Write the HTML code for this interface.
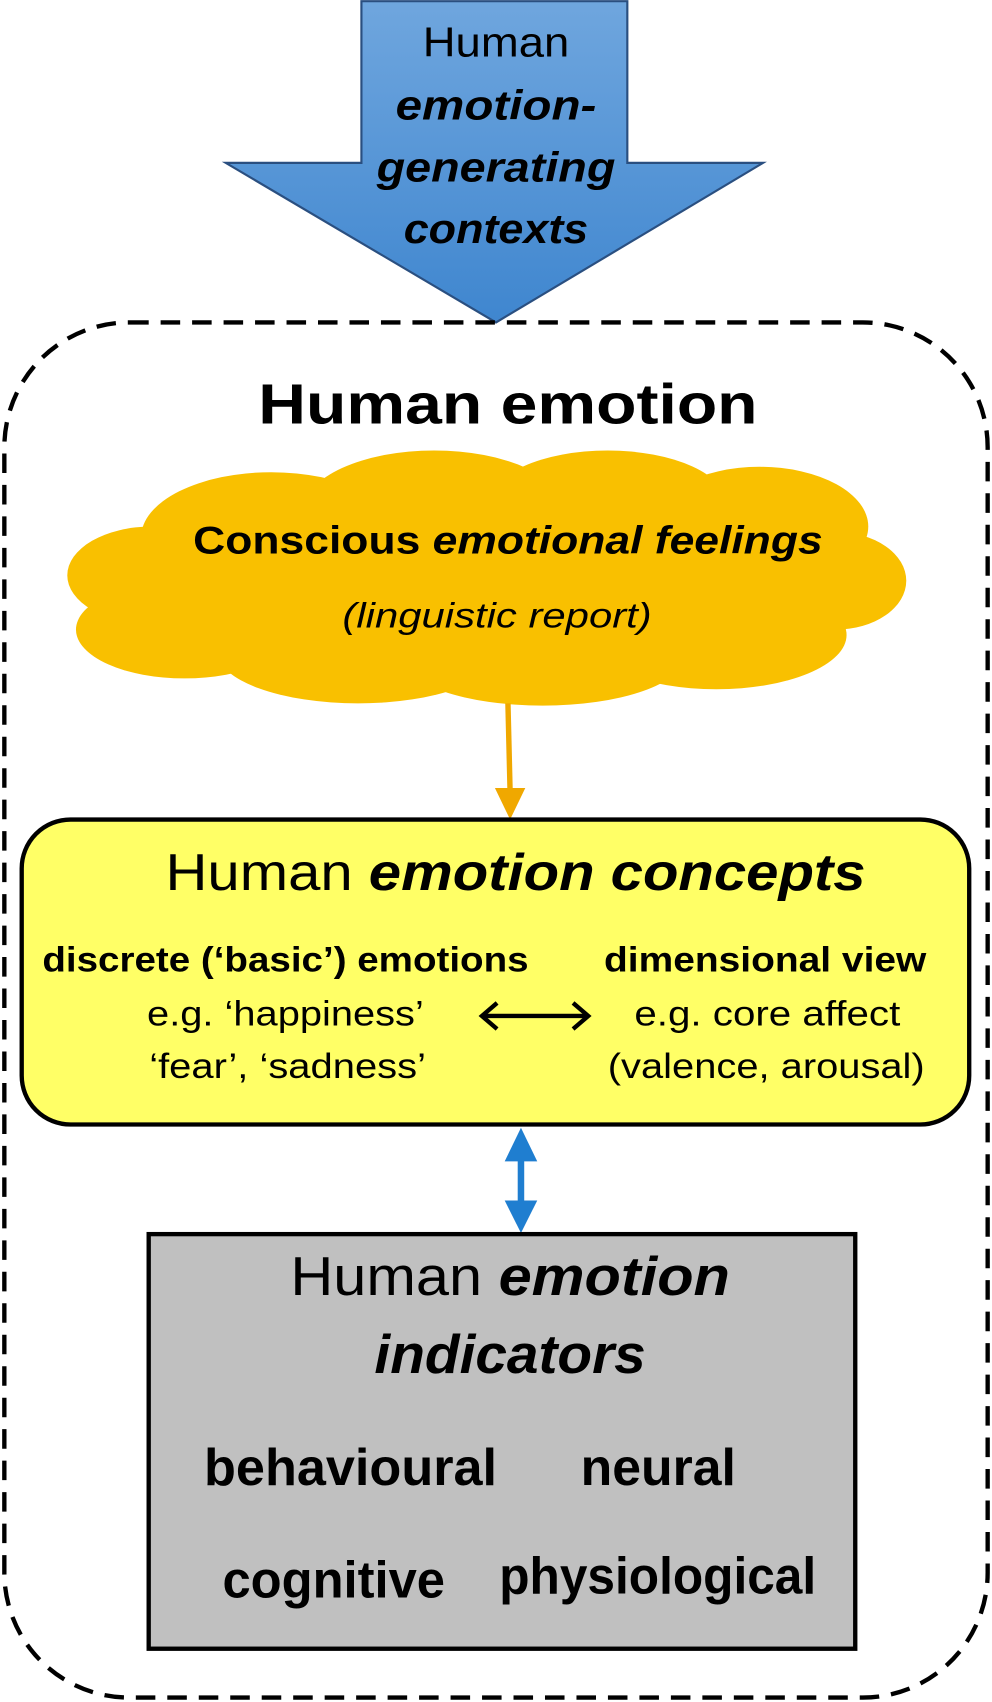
<!DOCTYPE html>
<html><head><meta charset="utf-8"><style>html,body{margin:0;padding:0;background:#fff}svg{display:block}</style></head>
<body>
<svg width="992" height="1702" viewBox="0 0 914 1568" xmlns="http://www.w3.org/2000/svg" font-family="Liberation Sans, sans-serif">
<defs>
<linearGradient id="bg" x1="0" y1="0" x2="0" y2="1">
<stop offset="0" stop-color="#6fa6de"/><stop offset="1" stop-color="#3f86cf"/>
</linearGradient>
</defs>
<!-- big arrow -->
<polygon points="333,1 578,1 578,150 703,150 457,297 208,150 333,150" fill="url(#bg)" stroke="#2a4f80" stroke-width="2"/>
<g text-anchor="middle" font-size="38" fill="#000">
<text x="457" y="52" textLength="135" lengthAdjust="spacingAndGlyphs">Human</text>
<text x="457" y="110" font-weight="bold" font-style="italic" textLength="185" lengthAdjust="spacingAndGlyphs">emotion-</text>
<text x="457" y="167" font-weight="bold" font-style="italic" textLength="220" lengthAdjust="spacingAndGlyphs">generating</text>
<text x="457" y="224" font-weight="bold" font-style="italic" textLength="170" lengthAdjust="spacingAndGlyphs">contexts</text>
</g>
<!-- dashed box -->
<rect x="4" y="297" width="906" height="1267" rx="115" ry="115" fill="none" stroke="#000" stroke-width="4" stroke-dasharray="18,11"/>
<text x="468" y="390" text-anchor="middle" font-size="52" font-weight="bold" textLength="460" lengthAdjust="spacingAndGlyphs">Human emotion</text>
<!-- cloud -->
<g fill="#f9c000">
<ellipse cx="250" cy="495" rx="120" ry="60"/>
<ellipse cx="400" cy="470" rx="120" ry="55"/>
<ellipse cx="560" cy="465" rx="110" ry="50"/>
<ellipse cx="700" cy="485" rx="100" ry="55"/>
<ellipse cx="770" cy="535" rx="65" ry="45"/>
<ellipse cx="140" cy="530" rx="78" ry="45"/>
<ellipse cx="170" cy="580" rx="100" ry="45"/>
<ellipse cx="330" cy="600" rx="130" ry="48"/>
<ellipse cx="500" cy="605" rx="130" ry="45"/>
<ellipse cx="660" cy="585" rx="120" ry="50"/>
<ellipse cx="450" cy="535" rx="330" ry="80"/>
</g>
<text x="468" y="510" text-anchor="middle" font-size="36" font-weight="bold" textLength="580" lengthAdjust="spacingAndGlyphs">Conscious <tspan font-style="italic">emotional feelings</tspan></text>
<text x="458" y="578" text-anchor="middle" font-size="32" font-style="italic" textLength="285" lengthAdjust="spacingAndGlyphs">(linguistic report)</text>
<!-- orange arrow -->
<line x1="468" y1="648" x2="470" y2="730" stroke="#f0a800" stroke-width="5"/>
<polygon points="456,726 484,726 470,755" fill="#f0a800"/>
<!-- yellow box -->
<rect x="20" y="755" width="873" height="281" rx="45" ry="45" fill="#ffff66" stroke="#000" stroke-width="4"/>
<text x="475" y="820" text-anchor="middle" font-size="48" textLength="645" lengthAdjust="spacingAndGlyphs">Human <tspan font-weight="bold" font-style="italic">emotion concepts</tspan></text>
<g text-anchor="middle" font-size="32">
<text x="263" y="895" font-weight="bold" textLength="448" lengthAdjust="spacingAndGlyphs">discrete (‘basic’) emotions</text>
<text x="263" y="945" textLength="255" lengthAdjust="spacingAndGlyphs">e.g. ‘happiness’</text>
<text x="265" y="993" textLength="255" lengthAdjust="spacingAndGlyphs">‘fear’, ‘sadness’</text>
<text x="705" y="895" font-weight="bold" textLength="297" lengthAdjust="spacingAndGlyphs">dimensional view</text>
<text x="707" y="945" textLength="245" lengthAdjust="spacingAndGlyphs">e.g. core affect</text>
<text x="706" y="993" textLength="292" lengthAdjust="spacingAndGlyphs">(valence, arousal)</text>
</g>
<g stroke="#000" stroke-width="4" fill="none">
<line x1="444" y1="936" x2="542" y2="936"/>
<polyline points="458,924 444,936 458,948"/>
<polyline points="528,924 542,936 528,948"/>
</g>
<!-- blue double arrow -->
<line x1="480" y1="1060" x2="480" y2="1115" stroke="#1f7ed0" stroke-width="6"/>
<polygon points="480,1039 465,1070 495,1070" fill="#1f7ed0"/>
<polygon points="480,1136 465,1106 495,1106" fill="#1f7ed0"/>
<!-- grey box -->
<rect x="137" y="1137" width="651" height="382" fill="#c0c0c0" stroke="#000" stroke-width="4"/>
<g text-anchor="middle" font-size="50">
<text x="470" y="1193" textLength="405" lengthAdjust="spacingAndGlyphs">Human <tspan font-weight="bold" font-style="italic">emotion</tspan></text>
<text x="470" y="1265" font-weight="bold" font-style="italic" textLength="250" lengthAdjust="spacingAndGlyphs">indicators</text>
</g>
<g font-size="48" font-weight="bold">
<text x="188" y="1368" textLength="270" lengthAdjust="spacingAndGlyphs">behavioural</text>
<text x="535" y="1368" textLength="143" lengthAdjust="spacingAndGlyphs">neural</text>
<text x="205" y="1472" textLength="205" lengthAdjust="spacingAndGlyphs">cognitive</text>
<text x="460" y="1468" textLength="292" lengthAdjust="spacingAndGlyphs">physiological</text>
</g>
</svg>
</body></html>
